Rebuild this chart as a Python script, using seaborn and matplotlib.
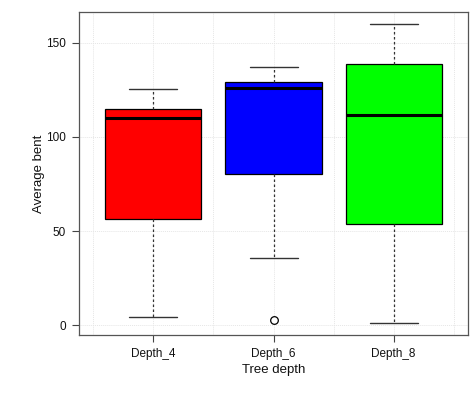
import pandas as pd
import seaborn as sns
import matplotlib.pyplot as plt

# Values
groups = ["Depth_4", "Depth_6", "Depth_8"]
lower_whisker = [4.4, 35.5, 1.2]
q1 = [56.4, 80.3, 53.7]
median = [110.0, 126.0, 111.7]
q3 = [115.0, 129.0, 139.0]
upper_whisker = [125.5, 137.0, 160.0]
outlier_group = ["Depth_6"]
outlier_value = [2.8]
colors = ["#FF0000", "#0000FF", "#00FF00"]

# Five points per group reproduce the five-number summary exactly
rows = []
for i, g in enumerate(groups):
    for v in [lower_whisker[i], q1[i], median[i], q3[i], upper_whisker[i]]:
        rows.append({"depth": g, "bent": v})
df = pd.DataFrame(rows)
out_df = pd.DataFrame({"depth": outlier_group, "bent": outlier_value})

sns.set_style("white")
plt.rcParams["font.family"] = ["Liberation Sans", "DejaVu Sans"]

fig = plt.figure(figsize=(4.74, 3.96), dpi=100)
ax = fig.add_axes([0.1667, 0.154, 0.8207, 0.8157])

# faint background grid
ax.set_axisbelow(True)
for xg in [-0.5, 0, 0.5, 1, 1.5, 2, 2.5]:
    ax.axvline(xg, color="#e6e6e6", lw=0.7, ls=(0, (1, 1)), zorder=0)
for yg in [0, 50, 100, 150]:
    ax.axhline(yg, color="#e6e6e6", lw=0.7, ls=(0, (1, 1)), zorder=0)

sns.boxplot(
    data=df, x="depth", y="bent", order=groups, hue="depth",
    palette=colors, legend=False, width=0.8, whis=1.5, ax=ax,
    showfliers=False, saturation=1,
    boxprops=dict(edgecolor="black", linewidth=0.9),
    medianprops=dict(color="black", linewidth=2.2),
    whiskerprops=dict(color="#333333", linewidth=0.9, linestyle=(0, (2, 2))),
    capprops=dict(color="#333333", linewidth=1.0),
    capwidths=0.4,
)
sns.stripplot(
    data=out_df, x="depth", y="bent", order=groups, jitter=False,
    marker="o", size=5.5, color="white", edgecolor="black", linewidth=0.9,
    ax=ax, zorder=5,
)

ax.set_xlim(-0.62, 2.62)
ax.set_ylim(-5.2, 166.4)
ax.set_yticks([0, 50, 100, 150])
ax.set_xlabel("Tree depth", fontsize=9.5, color="#111111", labelpad=3)
ax.set_ylabel("Average bent", fontsize=9.5, color="#111111", labelpad=0.5)
ax.tick_params(axis="both", direction="out", length=5, width=0.8,
               color="#444444", labelsize=8.5, labelcolor="#111111", pad=4.5,
               left=True, bottom=True)
for s in ax.spines.values():
    s.set_visible(True)
    s.set_color("#555555")
    s.set_linewidth(0.9)

fig.savefig("out.png", dpi=100)
